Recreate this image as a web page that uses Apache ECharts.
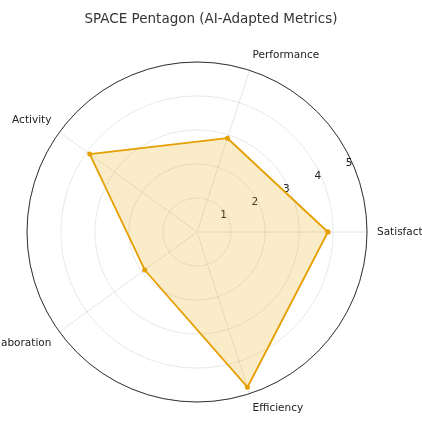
<!DOCTYPE html><html><head><meta charset="utf-8">
<script src="https://cdn.jsdelivr.net/npm/echarts@6/dist/echarts.min.js"></script>
<style>html,body{margin:0;padding:0;background:#fff}#c{width:422px;height:422px}</style></head><body><div id="c"></div>
<script>
const categories=['Satisfaction','Performance','Activity','Collaboration','Efficiency'];
const values=[3.85,2.9,3.9,1.9,4.8];
const radiusTicks=[1,2,3,4,5];
const pts=values.map((v,i)=>[v,i*72]);pts.push([values[0],360]);
const font='DejaVu Sans';
const chart=echarts.init(document.getElementById('c'));
chart.setOption({
 animation:false,
 title:{text:'SPACE Pentagon (AI-Adapted Metrics)',left:'center',top:7,textStyle:{fontFamily:font,fontSize:13.5,fontWeight:'normal',color:'#333'}},
 polar:[{center:[197,232],radius:170},{center:[197,232],radius:170}],
 angleAxis:[{polarIndex:0,type:'value',min:0,max:360,interval:72,startAngle:0,clockwise:false,
   axisLine:{lineStyle:{color:'#000',width:0.8}},axisTick:{show:false},
   axisLabel:{fontFamily:font,fontSize:10.5,color:'#222',margin:10,align:'center',verticalAlign:'middle',formatter:v=>v<360?categories[v/72]:''},
   splitLine:{lineStyle:{color:'#ccc',type:'dotted'}}},
  {polarIndex:1,type:'value',min:0,max:360,startAngle:22.5,clockwise:false,show:false}],
 radiusAxis:[{polarIndex:0,min:0,max:5,interval:1,axisLine:{show:false},axisTick:{show:false},axisLabel:{show:false},
   splitLine:{lineStyle:{color:'#ccc',type:'dotted'}}},
  {polarIndex:1,min:0,max:5,interval:1,axisLine:{show:false},axisTick:{show:false},splitLine:{show:false},
   axisLabel:{fontFamily:font,fontSize:10.5,color:'#222',margin:4,formatter:v=>radiusTicks.includes(v)?String(v):''}}],
 series:[{type:'line',coordinateSystem:'polar',polarIndex:0,data:pts,symbol:'circle',symbolSize:5,
   itemStyle:{color:'#E69F00'},lineStyle:{color:'#E69F00',width:1.8},areaStyle:{color:'rgba(230,159,0,0.3)'}}]
});
</script></body></html>
